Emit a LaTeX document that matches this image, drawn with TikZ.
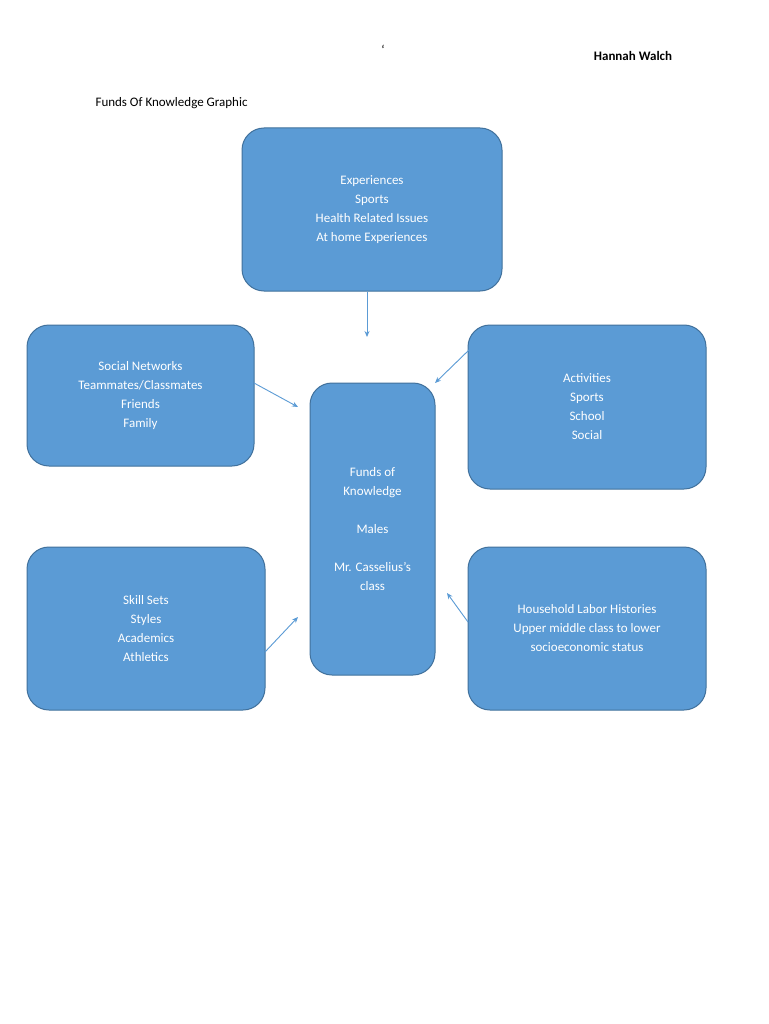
\documentclass[tikz,border=0pt]{standalone}
\usepackage{fontspec}
\setmainfont{Carlito}
\usetikzlibrary{arrows.meta}
\definecolor{boxfill}{HTML}{5B9BD5}
\definecolor{boxline}{HTML}{41719C}
\begin{document}
\begin{tikzpicture}[x=1pt,y=-1pt,
 box/.style={draw=boxline,line width=1pt,fill=boxfill,rounded corners=22pt,text=white,align=center,inner sep=0pt,font=\fontsize{13}{19}\selectfont},
 arr/.style={draw=boxfill,line width=0.9pt,-{Stealth[length=6pt,width=5pt]}}]
\useasboundingbox (0,0) rectangle (768,1024);
\fill[white] (0,0) rectangle (768,1024);
\node[font=\fontsize{13}{15}\selectfont\bfseries] (name) at (633,56) {Hannah Walch};
\node[font=\fontsize{13}{15}\selectfont] (tick) at (383,50) {`};
\node[font=\fontsize{13}{15}\selectfont,anchor=west] (title) at (92,103) {Funds Of Knowledge Graphic};
\node[box,minimum width=260pt,minimum height=163pt] (top) at (372,209.5) {Experiences\\Sports\\Health Related Issues\\At home Experiences};
\node[box,minimum width=227pt,minimum height=141pt] (soc) at (140.5,395.5) {Social Networks\\Teammates/Classmates\\Friends\\Family};
\node[box,minimum width=238pt,minimum height=164pt] (act) at (587,407) {Activities\\Sports\\School\\Social};
\node[box,minimum width=125pt,minimum height=292pt] (fk) at (372.5,529) {Funds of\\Knowledge\\[19pt]Males\\[19pt]Mr. Casselius's\\class};
\node[box,minimum width=238pt,minimum height=163pt] (sk) at (146,628.5) {Skill Sets\\Styles\\Academics\\Athletics};
\node[box,minimum width=238pt,minimum height=163pt] (hh) at (587,628.5) {Household Labor Histories\\Upper middle class to lower\\socioeconomic status};
\coordinate (ta) at (367,337);
\coordinate (sa) at (298,407);
\coordinate (aa) at (435,383);
\coordinate (ka) at (298,617);
\coordinate (ha) at (447,593);
\draw[arr] (top.south -| ta) -- (ta);
\draw[arr] (254,383) -- (sa);
\draw[arr] (470,349) -- (aa);
\draw[arr] (265,652) -- (ka);
\draw[arr] (468,622) -- (ha);
\end{tikzpicture}
\end{document}
